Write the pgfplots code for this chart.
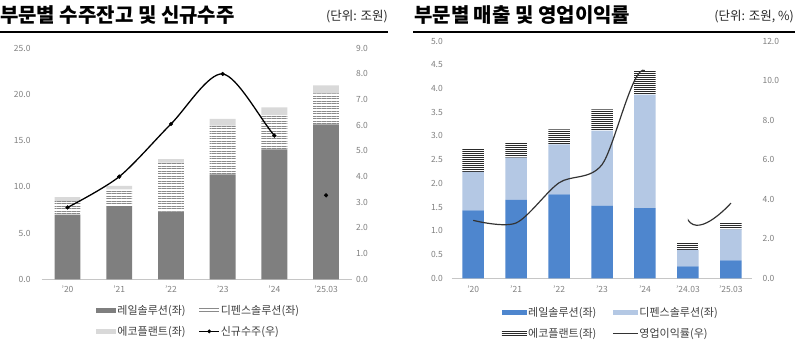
\documentclass[border=0pt]{standalone}
\usepackage{pgfplots}
\pgfplotsset{compat=1.18}
\usepackage{fontspec}
\setmainfont{Noto Sans CJK KR}
\usetikzlibrary{patterns.meta}
\definecolor{railL}{HTML}{7F7F7F}
\definecolor{ecoL}{HTML}{D9D9D9}
\definecolor{defL}{HTML}{8A8A8A}
\definecolor{railR}{HTML}{4E86CE}
\definecolor{defR}{HTML}{B4C8E4}
\definecolor{ecoR}{HTML}{2A2A2A}
\definecolor{tickc}{HTML}{7F7F7F}
\definecolor{legc}{HTML}{404040}
\pgfplotsset{
  base/.style={scale only axis, anchor=south west,
     /pgf/number format/assume math mode=true,
     tick label style={font=\fontsize{8.5}{10}\selectfont, text=tickc, inner sep=0pt},
     major tick length=0pt, tick style={draw=none}},
  fmt/.style={y tick label style={/pgf/number format/fixed, /pgf/number format/fixed zerofill, /pgf/number format/precision=1}},
  rectleg/.style={legend image code/.code={\path[##1] (0pt,-2.6pt) rectangle (#1,2.6pt);}},
  twolineleg/.style={legend image code/.code={\draw[defL, line width=1pt] (0pt,1.3pt) -- (20pt,1.3pt) (0pt,-1.3pt) -- (20pt,-1.3pt);}},
  threelineleg/.style={legend image code/.code={\draw[ecoR, line width=1pt] (0pt,2pt) -- (25pt,2pt) (0pt,0pt) -- (25pt,0pt) (0pt,-2pt) -- (25pt,-2pt);}},
  markleg/.style={legend image code/.code={\draw[black, line width=1.2pt] (0pt,0pt) -- (20pt,0pt); \fill[black] (10pt,0pt) circle (1.8pt);}},
  lineleg/.style={legend image code/.code={\draw[##1] (0pt,0pt) -- (25pt,0pt);}},
}
\begin{document}
\begin{tikzpicture}
\useasboundingbox (0,0) rectangle (800pt,344pt);
% ---------- titles ----------
\node[anchor=west, inner sep=0pt, font=\fontsize{20}{24}\selectfont\bfseries] at (0pt,329pt) {부문별 수주잔고 및 신규수주};
\node[anchor=east, inner sep=0pt, font=\fontsize{12.5}{14}\selectfont, text=black!85] at (388pt,327.5pt) {(단위: 조원)};
\draw[line width=1.8pt] (0pt,312pt) -- (388pt,312pt);
\node[anchor=west, inner sep=0pt, font=\fontsize{20}{24}\selectfont\bfseries] at (414pt,329pt) {부문별 매출 및 영업이익률};
\node[anchor=east, inner sep=0pt, font=\fontsize{12.5}{14}\selectfont, text=black!85] at (794pt,327.5pt) {(단위: 조원, \%)};
\draw[line width=1.8pt] (413pt,312pt) -- (795pt,312pt);

% ---------- LEFT: bars ----------
\begin{axis}[base, fmt, at={(41.7pt,64.7pt)}, width=310.2pt, height=231pt,
  xmin=-0.5, xmax=5.5, ymin=0, ymax=25,
  ybar stacked, bar width=0.5,
  axis x line*=bottom, axis y line*=left,
  x axis line style={draw=gray!45, line width=1.2pt},
  y axis line style={draw=none},
  xtick={0,...,5}, xticklabels={'20,'21,'22,'23,'24,'25.03},
  ytick={0,5,...,25},
  x tick label style={yshift=-6pt},
  y tick label style={xshift=-11pt},
  legend columns=2, legend cell align=left,
  legend style={at={(0.176,-0.106)}, anchor=north west, draw=none, fill=none, inner sep=0pt,
     nodes={inner xsep=1pt, inner ysep=1pt},
     font=\fontsize{11}{13}\selectfont, text=legc, row sep=8.5pt,
     /tikz/every even column/.append style={column sep=12pt}},
]
\addplot[fill=railL, draw=none, rectleg=20pt]
  coordinates {(0,7.00) (1,7.93) (2,7.32) (3,11.36) (4,14.07) (5,16.77)};
\addlegendentry{레일솔루션(좌)}
\addplot[pattern={Lines[angle=0,distance=2.5pt,line width=1pt]}, pattern color=defL, draw=none, twolineleg]
  coordinates {(0,1.50) (1,1.81) (2,5.30) (3,5.26) (4,3.71) (5,3.36)};
\addlegendentry{디펜스솔루션(좌)}
\addplot[fill=ecoL, draw=none, rectleg=20pt]
  coordinates {(0,0.40) (1,0.36) (2,0.38) (3,0.73) (4,0.82) (5,0.87)};
\addlegendentry{에코플랜트(좌)}
\addlegendimage{black, markleg}
\addlegendentry{신규수주(우)}
\end{axis}
% line (clipped at '24)
\begin{axis}[base, at={(41.7pt,64.7pt)}, width=232.65pt, height=231pt,
  xmin=-0.5, xmax=4, ymin=0, ymax=9, hide axis]
\addplot[smooth, black, line width=1.3pt, mark=none]
  coordinates {(0,2.80) (1,4.00) (2,6.05) (3,8.00) (4,5.60) (5,3.27)};
\end{axis}
% right axis + markers
\begin{axis}[base, fmt, at={(41.7pt,64.7pt)}, width=310.2pt, height=231pt,
  xmin=-0.5, xmax=5.5, ymin=0, ymax=9,
  axis y line*=right, axis x line=none, y axis line style={draw=none},
  ytick={0,1,...,9}, y tick label style={xshift=4pt}]
\addplot[only marks, mark=*, mark size=1.9pt, black]
  coordinates {(0,2.80) (1,4.00) (2,6.05) (3,8.00) (4,5.60) (5,3.27)};
\end{axis}

% ---------- RIGHT: bars ----------
\begin{axis}[base, fmt, at={(451.7pt,65.7pt)}, width=300.65pt, height=237.3pt,
  xmin=-0.5, xmax=6.5, ymin=0, ymax=5,
  ybar stacked, bar width=0.5,
  axis x line*=bottom, axis y line*=left,
  x axis line style={draw=gray!45, line width=1.2pt},
  y axis line style={draw=none},
  xtick={0,...,6}, xticklabels={'20,'21,'22,'23,'24,'24.03,'25.03},
  ytick={0,0.5,...,5},
  x tick label style={yshift=-7pt},
  y tick label style={xshift=-8.7pt},
  legend columns=2, legend cell align=left,
  legend style={at={(0.164,-0.118)}, anchor=north west, draw=none, fill=none, inner sep=0pt,
     nodes={inner xsep=1pt, inner ysep=1pt},
     font=\fontsize{11}{13}\selectfont, text=legc, row sep=8.5pt,
     /tikz/every even column/.append style={column sep=15pt}},
]
\addplot[fill=railR, draw=none, rectleg=25pt]
  coordinates {(0,1.43) (1,1.65) (2,1.77) (3,1.53) (4,1.48) (5,0.25) (6,0.38)};
\addlegendentry{레일솔루션(좌)}
\addplot[fill=defR, draw=none, rectleg=25pt]
  coordinates {(0,0.81) (1,0.89) (2,1.05) (3,1.58) (4,2.39) (5,0.35) (6,0.65)};
\addlegendentry{디펜스솔루션(좌)}
\addplot[pattern={Lines[angle=0,distance=2pt,line width=1pt]}, pattern color=ecoR, draw=none, threelineleg]
  coordinates {(0,0.48) (1,0.32) (2,0.32) (3,0.45) (4,0.50) (5,0.14) (6,0.13)};
\addlegendentry{에코플랜트(좌)}
\addlegendimage{black!80, line width=1.1pt, lineleg}
\addlegendentry{영업이익률(우)}
\end{axis}
% right axis labels
\begin{axis}[base, fmt, at={(451.7pt,65.7pt)}, width=300.65pt, height=237.3pt,
  xmin=-0.5, xmax=6.5, ymin=0, ymax=12,
  axis y line*=right, axis x line=none, y axis line style={draw=none},
  ytick={0,2,...,12}, y tick label style={xshift=10pt}]
\addplot[draw=none] coordinates {(0,0)};
\end{axis}
% line pieces
\begin{axis}[base, at={(451.7pt,65.7pt)}, width=193.275pt, height=237.3pt,
  xmin=-0.5, xmax=4, ymin=0, ymax=12, hide axis]
\addplot[smooth, color=black!80, line width=1.2pt, mark=none]
  coordinates {(0,2.93) (1,2.80) (2,4.83) (3,5.75) (4,10.50) (5,2.95) (6,3.80)};
\end{axis}
\begin{axis}[base, at={(687.925pt,65.7pt)}, width=64.425pt, height=237.3pt,
  xmin=5, xmax=6.5, ymin=0, ymax=12, hide axis]
\addplot[smooth, color=black!80, line width=1.2pt, mark=none]
  coordinates {(0,2.93) (1,2.80) (2,4.83) (3,5.75) (4,10.50) (5,2.95) (6,3.80)};
\end{axis}
\end{tikzpicture}
\end{document}
